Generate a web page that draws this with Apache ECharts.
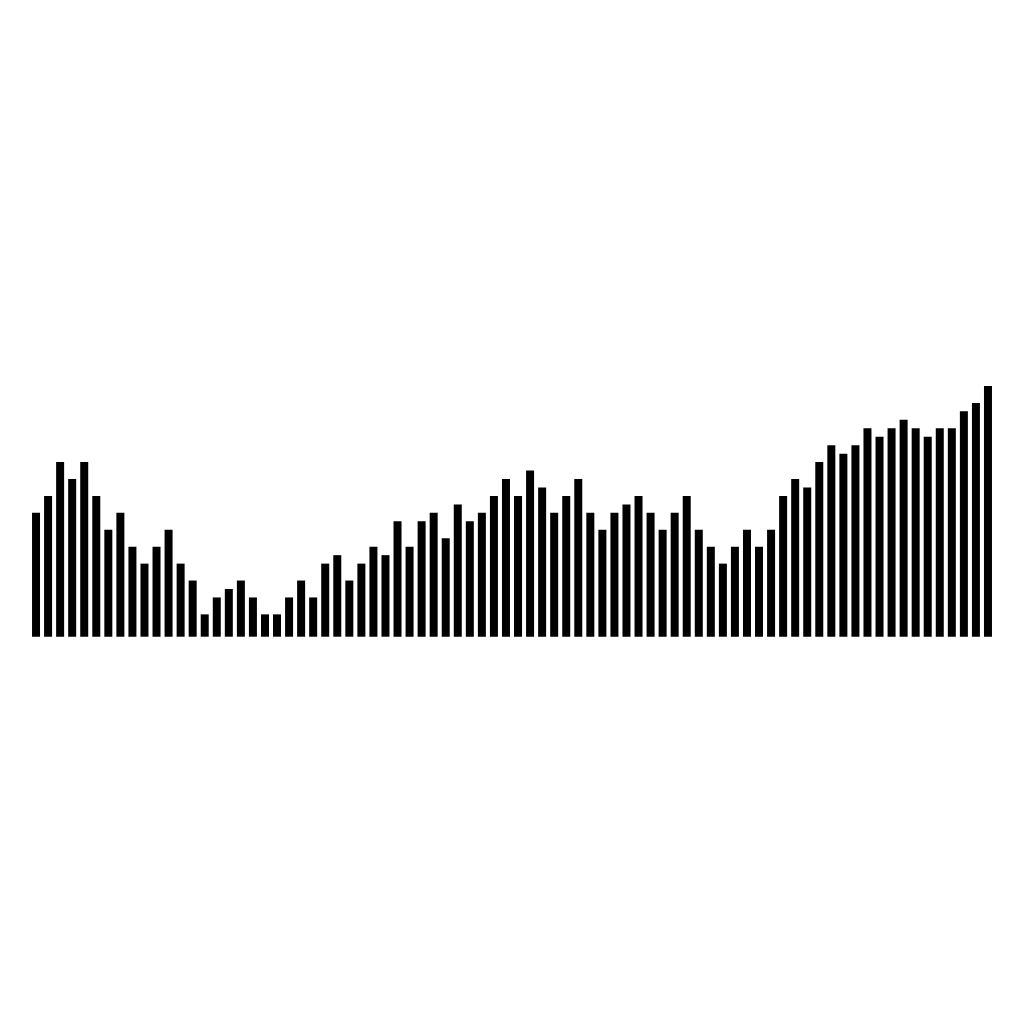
<!DOCTYPE html>
<html>
<head>
<meta charset="utf-8">
<style>html,body{margin:0;padding:0;background:#fff;}#chart{width:1024px;height:1024px;}</style>
<script src="https://cdn.jsdelivr.net/npm/echarts@6/dist/echarts.min.js"></script>
</head>
<body>
<div id="chart"></div>
<script>
const categories = Array.from({length: 80}, (_, i) => String(i + 1));
const values = [
  15, 17, 21, 19, 21, 17, 13, 15, 11, 9,
  11, 13, 9, 7, 3, 5, 6, 7, 5, 3,
  3, 5, 7, 5, 9, 10, 7, 9, 11, 10,
  14, 11, 14, 15, 12, 16, 14, 15, 17, 19,
  17, 20, 18, 15, 17, 19, 15, 13, 15, 16,
  17, 15, 13, 15, 17, 13, 11, 9, 11, 13,
  11, 13, 17, 19, 18, 21, 23, 22, 23, 25,
  24, 25, 26, 25, 24, 25, 25, 27, 28, 30
];
const chart = echarts.init(document.getElementById('chart'));
chart.setOption({
  animation: false,
  backgroundColor: '#ffffff',
  grid: { left: 30, right: 30, top: 386, bottom: 387.3 },
  xAxis: { type: 'category', data: categories, show: false },
  yAxis: { type: 'value', min: 0.36, max: 30, show: false },
  series: [{
    type: 'bar',
    data: values,
    barWidth: 8,
    itemStyle: { color: '#000000' }
  }]
});
</script>
</body>
</html>
